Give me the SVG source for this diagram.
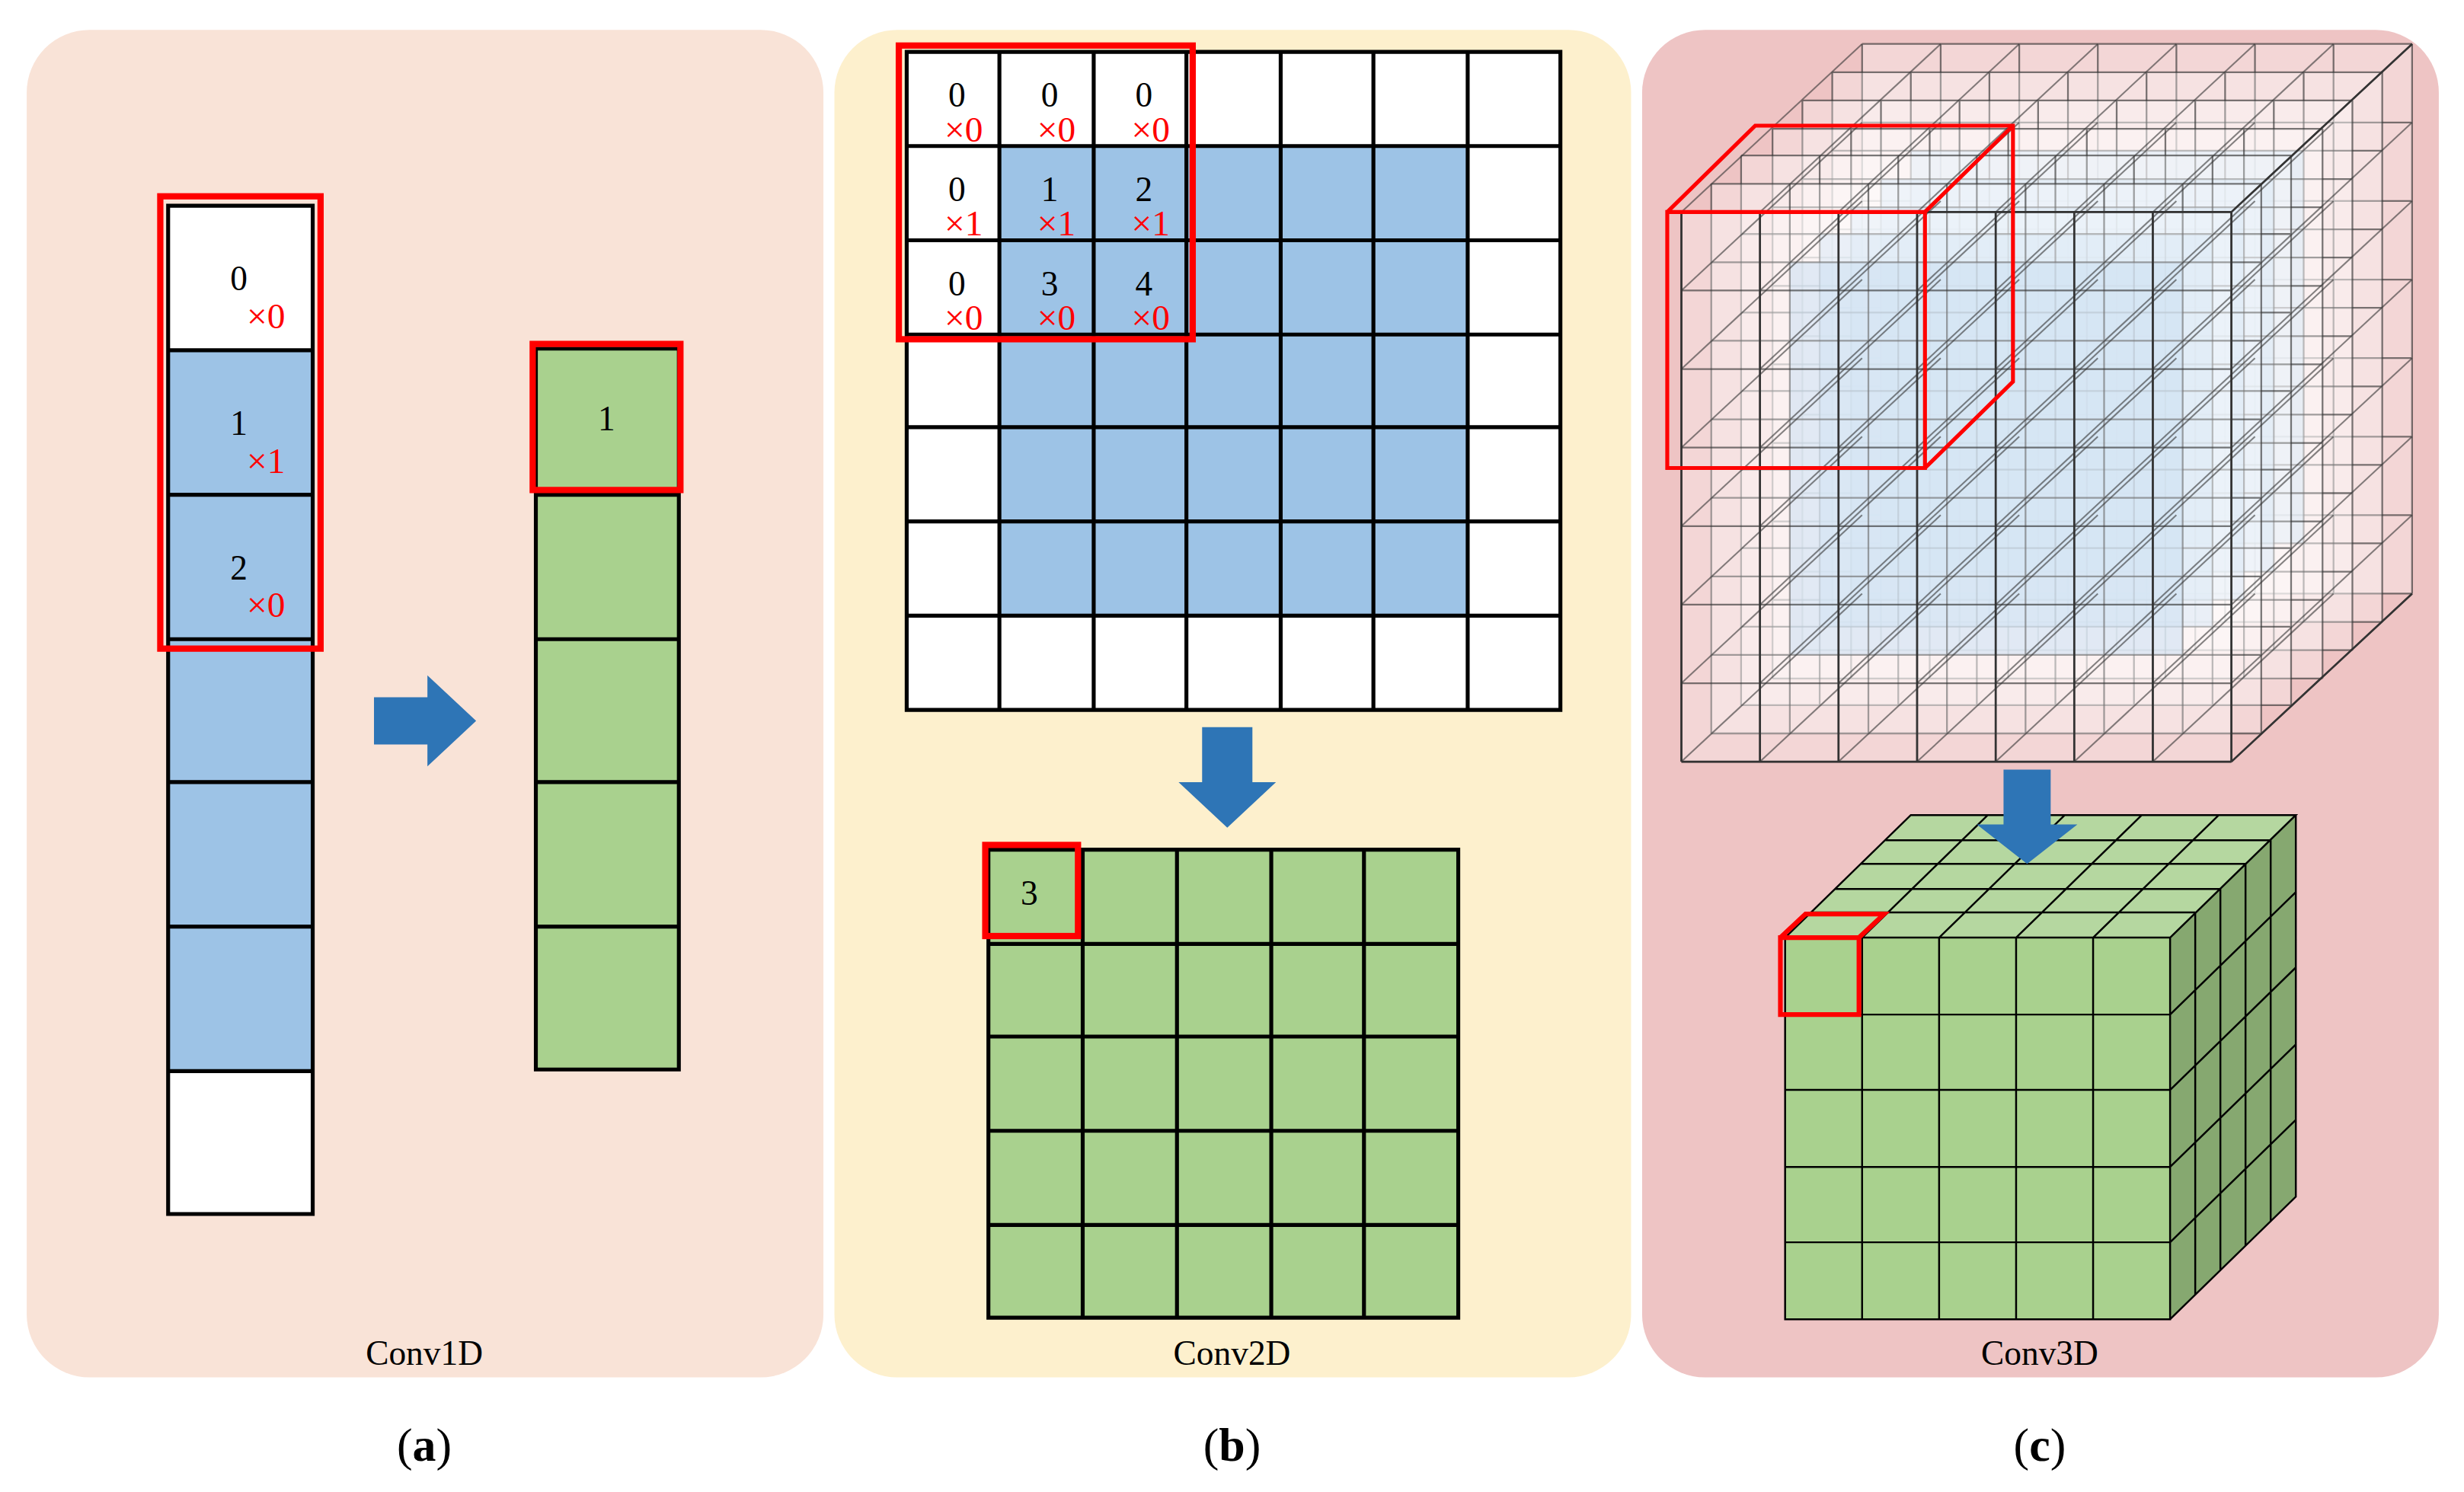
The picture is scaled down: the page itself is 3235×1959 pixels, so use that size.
<svg xmlns="http://www.w3.org/2000/svg" xmlns:xlink="http://www.w3.org/1999/xlink" width="3235" height="1959" viewBox="0 0 3235 1959">
<style>
text{font-family:"Liberation Serif","Times New Roman",serif}
.d{font-size:22px;fill:#000;text-anchor:middle}
.r{font-size:23px;fill:#f00}
.cap{font-size:22px;text-anchor:middle}
.lab{font-size:30px;text-anchor:middle}
.g{stroke:#000;stroke-width:2.5;fill:none}
.red{stroke:#f00;stroke-width:4;fill:none}
.thin{stroke:#000;stroke-width:1.2;fill:none}
</style>
<defs>
<g id="L">
<rect x="0" y="0" width="350" height="350" fill="#fff" fill-opacity="0.3"/>
<path d="M0 0H350M0 50H350M0 100H350M0 150H350M0 200H350M0 250H350M0 300H350M0 350H350M0 0V350M50 0V350M100 0V350M150 0V350M200 0V350M250 0V350M300 0V350M350 0V350" stroke="#333" stroke-opacity="0.65" stroke-width="1.1" fill="none"/>
</g>
<g id="LB">
<rect x="50" y="50" width="250" height="250" fill="#9dc3e6" fill-opacity="0.6"/>
<use xlink:href="#L"/>
</g>
<g id="drow" stroke="#333" stroke-opacity="0.6" stroke-width="1">
<line x1="0" y1="0" x2="115" y2="-107"/><line x1="50" y1="0" x2="165" y2="-107"/><line x1="100" y1="0" x2="215" y2="-107"/><line x1="150" y1="0" x2="265" y2="-107"/><line x1="200" y1="0" x2="315" y2="-107"/><line x1="250" y1="0" x2="365" y2="-107"/><line x1="300" y1="0" x2="415" y2="-107"/><line x1="350" y1="0" x2="465" y2="-107"/>
</g>
</defs>
<rect width="3235" height="1959" fill="#fff"/>
<g transform="scale(2.0631,2.0621)">
<g id="panel-a">
<rect x="17" y="19" width="507" height="858" rx="40" fill="#f9e3d7"/>
<rect x="107" y="223" width="92" height="459" fill="#9dc3e6"/>
<rect x="107" y="131" width="92" height="92" fill="#fff"/>
<rect x="107" y="682" width="92" height="91" fill="#fff"/>
<path class="g" d="M107 131H199V773H107ZM107 223H199M107 315H199M107 407H199M107 498H199M107 590H199M107 682H199"/>
<rect class="red" x="102" y="125" width="102" height="288"/>
<text class="d" x="152" y="185">0</text><text class="r" x="157" y="209">×0</text>
<text class="d" x="152" y="277">1</text><text class="r" x="157" y="301">×1</text>
<text class="d" x="152" y="369">2</text><text class="r" x="157" y="393">×0</text>
<path d="M238 444H272V430L303 459L272 488V474H238Z" fill="#2e75b6"/>
<rect x="341" y="222" width="91" height="459" fill="#a9d18e"/>
<path class="g" d="M341 222H432V681H341ZM341 315H432M341 407H432M341 498H432M341 590H432"/>
<rect class="red" x="339" y="219" width="94" height="93"/>
<text class="d" x="386" y="274">1</text>
<text class="cap" x="270" y="869">Conv1D</text>
<text class="lab" x="270" y="930">(<tspan font-weight="bold">a</tspan>)</text>
</g>
<g id="panel-b">
<rect x="531" y="19" width="507" height="858" rx="40" fill="#fdf0cd"/>
<rect x="577" y="33" width="416" height="419" fill="#fff"/>
<rect x="636" y="93" width="298" height="299" fill="#9dc3e6"/>
<path class="g" d="M577 33H993V452H577ZM577 93H993M577 153H993M577 213H993M577 272H993M577 332H993M577 392H993M636 33V452M696 33V452M755 33V452M815 33V452M874 33V452M934 33V452"/>
<rect class="red" x="572" y="29" width="187" height="187"/>
<text class="d" x="609" y="68">0</text><text class="r" x="601" y="90">×0</text>
<text class="d" x="668" y="68">0</text><text class="r" x="660" y="90">×0</text>
<text class="d" x="728" y="68">0</text><text class="r" x="720" y="90">×0</text>
<text class="d" x="609" y="128">0</text><text class="r" x="601" y="150">×1</text>
<text class="d" x="668" y="128">1</text><text class="r" x="660" y="150">×1</text>
<text class="d" x="728" y="128">2</text><text class="r" x="720" y="150">×1</text>
<text class="d" x="609" y="188">0</text><text class="r" x="601" y="210">×0</text>
<text class="d" x="668" y="188">3</text><text class="r" x="660" y="210">×0</text>
<text class="d" x="728" y="188">4</text><text class="r" x="720" y="210">×0</text>
<path d="M765 463H797V498H812L781 527L750 498H765Z" fill="#2e75b6"/>
<rect x="629" y="541" width="299" height="298" fill="#a9d18e"/>
<path class="g" d="M629 541H928V839H629ZM629 601H928M629 660H928M629 720H928M629 780H928M689 541V839M749 541V839M809 541V839M868 541V839"/>
<rect class="red" x="627" y="538" width="59" height="58"/>
<text class="d" x="655" y="576">3</text>
<text class="cap" x="784" y="869">Conv2D</text>
<text class="lab" x="784" y="930">(<tspan font-weight="bold">b</tspan>)</text>
</g>
<g id="panel-c">
<rect x="1045" y="19" width="507" height="858" rx="40" fill="#eec4c4"/>
<g id="cube3d">
<use xlink:href="#L" transform="translate(1185,28)"/>
<use xlink:href="#LB" transform="translate(1166,46)"/>
<use xlink:href="#LB" transform="translate(1147,64)"/>
<use xlink:href="#LB" transform="translate(1128,82)"/>
<use xlink:href="#LB" transform="translate(1108,99)"/>
<use xlink:href="#LB" transform="translate(1089,117)"/>
<use xlink:href="#L" transform="translate(1070,135)"/>
<use xlink:href="#drow" transform="translate(1070,135)"/>
<use xlink:href="#drow" transform="translate(1070,185)"/>
<use xlink:href="#drow" transform="translate(1070,235)"/>
<use xlink:href="#drow" transform="translate(1070,285)"/>
<use xlink:href="#drow" transform="translate(1070,335)"/>
<use xlink:href="#drow" transform="translate(1070,385)"/>
<use xlink:href="#drow" transform="translate(1070,435)"/>
<use xlink:href="#drow" transform="translate(1070,485)"/>
<path d="M1070 135V485M1120 135V485M1170 135V485M1220 135V485M1270 135V485M1320 135V485M1370 135V485M1420 135V485M1070 135H1420M1070 485H1420M1420 135L1535 28M1420 485L1535 378" stroke="#333" stroke-width="1.3" fill="none"/>
<path d="M1061 135H1225V298H1061ZM1061 135L1117 80H1281V243L1225 298M1225 135L1281 80" stroke="#f00" stroke-width="2.5" fill="none"/>
</g>
<g id="cube-out">
<polygon points="1136,597 1381,597 1461,519 1216,519" fill="#b5d7a0"/>
<polygon points="1381,597 1461,519 1461,762 1381,840" fill="#86a870"/>
<rect x="1136" y="597" width="245" height="243" fill="#a9d18e"/>
<path class="thin" d="M1136 597H1381V840H1136ZM1136 646H1381M1136 694H1381M1136 743H1381M1136 791H1381M1185 597V840M1234 597V840M1283 597V840M1332 597V840M1136 597L1216 519H1461L1381 597M1152 581H1397M1168 566H1413M1184 550H1429M1200 535H1445M1185 597L1265 519M1234 597L1314 519M1283 597L1363 519M1332 597L1412 519M1461 519V762L1381 840M1397 581V824M1413 566V809M1429 550V793M1445 535V778M1381 646L1461 568M1381 694L1461 616M1381 743L1461 665M1381 791L1461 713"/>
<path d="M1133 597H1183V646H1133ZM1133 597L1149 582H1199L1183 597" stroke="#f00" stroke-width="3" fill="none"/>
</g>
<path d="M1275 490H1305V525H1322L1290 550L1258 525H1275Z" fill="#2e75b6"/>
<text class="cap" x="1298" y="869">Conv3D</text>
<text class="lab" x="1298" y="930">(<tspan font-weight="bold">c</tspan>)</text>
</g>
</g>
</svg>
